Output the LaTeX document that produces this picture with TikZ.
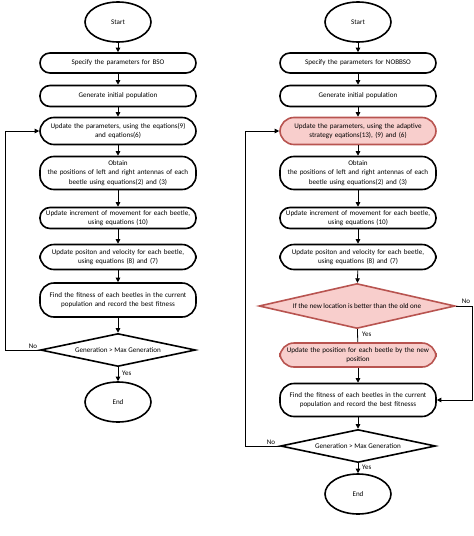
\documentclass[tikz,border=0pt]{standalone}
\usepackage{fontspec}
\setmainfont{Carlito}
\usetikzlibrary{shapes.geometric,arrows.meta}
\definecolor{pinkfill}{HTML}{F8CECC}
\definecolor{pinkdraw}{HTML}{B85450}
\tikzset{
  base/.style={font=\fontsize{7.1}{9.2}\selectfont, align=center, inner sep=0pt, line width=1.6pt},
  term/.style={base, ellipse, draw, minimum width=66pt, minimum height=40pt},
  proc/.style={base, draw, rounded corners=10pt, minimum width=156pt, text width=154pt},
  tall/.style={rounded corners=14pt},
  dec/.style={base, diamond, draw, minimum width=155pt, minimum height=33pt, shape aspect=4.7},
  hl/.style={fill=pinkfill, draw=pinkdraw},
  conn/.style={line width=0.8pt, -{Triangle[length=4.5pt,width=4.5pt]}},
  plain/.style={line width=0.8pt},
  lab/.style={font=\fontsize{7}{8}\selectfont, inner sep=1pt}
}
\begin{document}
\begin{tikzpicture}[x=1pt,y=-1pt]
\useasboundingbox (0,0) rectangle (474,536);
% left column
\node[term] (ls) at (118,22) {Start};
\node[proc, minimum height=20pt] (l1) at (118,63) {Specify the parameters for BSO};
\node[proc, minimum height=21pt] (l2) at (118,96) {Generate initial population};
\node[proc, tall, minimum height=27pt] (l3) at (118,131) {Update the parameters, using the eqations(9)\\ and eqations(6)};
\node[proc, tall, minimum height=33pt] (l4) at (118,173) {Obtain\\ the positions of left and right antennas of each\\ beetle using equations(2) and (3)};
\node[proc, minimum height=21pt] (l5) at (118,218) {Update increment of movement for each beetle,\\ using equations (10)};
\node[proc, tall, minimum height=25pt] (l6) at (118,257) {Update positon and velocity for each beetle,\\ using equations (8) and (7)};
\node[proc, tall, minimum height=34pt] (l7) at (118,300) {Find the fitness of each beetles in the current\\ population and record the best fitness};
\node[dec] (ld) at (118,350) {Generation > Max Generation};
\node[term] (le) at (118,402) {End};
\draw[conn] (ls) -- (l1);
\draw[conn] (l1) -- (l2);
\draw[conn] (l2) -- (l3);
\draw[conn] (l3) -- (l4);
\draw[conn] (l4) -- (l5);
\draw[conn] (l5) -- (l6);
\draw[conn] (l6) -- (l7);
\draw[conn] (l7) -- (ld);
\draw[conn] (ld) -- (le);
\coordinate (lc1) at (5,350);
\coordinate (lc2) at (5,131);
\draw[conn] (ld.west) -- (lc1) -- (lc2) -- (l3.west);
\node[lab, anchor=south] at (33,350) {No};
\node[lab, anchor=west] at (121,373) {Yes};
% right column
\node[term] (rs) at (358,22) {Start};
\node[proc, minimum height=20pt] (r1) at (358,63) {Specify the parameters for NOBBSO};
\node[proc, minimum height=21pt] (r2) at (358,96) {Generate initial population};
\node[proc, tall, hl, minimum height=27pt] (r3) at (358,131) {Update the parameters, using the adaptive\\ strategy eqations(13), (9) and (6)};
\node[proc, tall, minimum height=33pt] (r4) at (358,173) {Obtain\\ the positions of left and right antennas of each\\ beetle using equations(2) and (3)};
\node[proc, minimum height=21pt] (r5) at (358,218) {Update increment of movement for each beetle,\\ using equations (10)};
\node[proc, tall, minimum height=25pt] (r6) at (358,257) {Update positon and velocity for each beetle,\\ using equations (8) and (7)};
\node[dec, hl, minimum width=196pt, minimum height=45pt, shape aspect=4.36] (rd1) at (357,306) {If the new location is better than the old one};
\node[proc, tall, hl, minimum height=24pt] (r7) at (358,355) {Update the position for each beetle by the new\\ position};
\node[proc, tall, minimum height=33pt] (r8) at (358,400) {Find the fitness of each beetles in the current\\ population and record the best fitnesss};
\node[dec] (rd2) at (358,446) {Generation > Max Generation};
\node[term] (re) at (358,494) {End};
\draw[conn] (rs) -- (r1);
\draw[conn] (r1) -- (r2);
\draw[conn] (r2) -- (r3);
\draw[conn] (r3) -- (r4);
\draw[conn] (r4) -- (r5);
\draw[conn] (r5) -- (r6);
\draw[conn] (r6) -- (rd1);
\draw[plain] (rd1) -- (r7);
\draw[conn] (r7) -- (r8);
\draw[conn] (r8) -- (rd2);
\draw[conn] (rd2) -- (re);
\coordinate (rc1) at (472.5,306);
\coordinate (rc2) at (472.5,400);
\draw[conn] (rd1.east) -- (rc1) -- (rc2) -- (r8.east);
\coordinate (rc3) at (245,446);
\coordinate (rc4) at (245,131);
\draw[conn] (rd2.west) -- (rc3) -- (rc4) -- (r3.west);
\node[lab, anchor=south] at (466,305) {No};
\node[lab, anchor=west] at (361,334) {Yes};
\node[lab, anchor=south] at (271,446) {No};
\node[lab, anchor=west] at (361,467) {Yes};
\end{tikzpicture}
\end{document}
